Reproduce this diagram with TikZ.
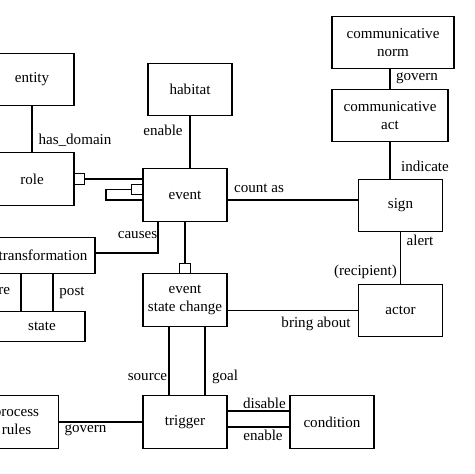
\documentclass[tikz,border=0pt]{standalone}
\usepackage{fontspec}
\setmainfont{Liberation Serif}
\tikzset{
  box/.style={draw, minimum width=63pt, minimum height=39.5pt, inner sep=1pt, align=center},
  sq/.style={draw, minimum size=8pt, inner sep=0pt},
  lbl/.style={inner sep=0pt}
}
\begin{document}
\begin{tikzpicture}[x=0.75pt, y=-0.75pt, line width=0.8pt,
  font=\fontsize{11.3}{14}\selectfont]
					\useasboundingbox (0,0) rectangle (474,474);
					\clip (0,0) rectangle (474,474);

					\node[box] (Ent) at (32,79.5) {entity};
					\node[box] (Role) at (32,179) {role};
					\node[box] (Hab) at (190,89.5) {habitat};
					\node[box] (Ev) at (185,195) {event};
					\node[box, minimum width=91.5pt] (Norm) at (393,42.5) {communicative\\norm};
					\node[box, minimum width=87pt] (Act) at (390,115.5) {communicative\\act};
					\node[box] (Sign) at (400.5,205.5) {sign};
					\node[box] (Actor) at (400.5,310.5) {actor};
					\node[box, minimum width=78pt, minimum height=27.5pt] (Trans) at (43,255.5) {transformation};
					\node[box, minimum width=64.5pt, minimum height=23pt] (State) at (42,326.5) {state};
					\node[box] (Esc) at (185,300) {event\\state change};
					\node[box] (Trig) at (185,422) {trigger};
					\node[box] (Cond) at (332,422) {condition};
					\node[box] (Proc) at (16.5,422) {process\\rules};

					\node[sq] (RSq) at (79.5,179) {};
					\node[sq] (ESq) at (137,189.5) {};
					\node[sq] (CSq) at (185,268.5) {};

					\coordinate (Lp1) at (106,189.5);
					\coordinate (Lp2) at (106,200);
					\coordinate (Cs) at (158,253);
					\coordinate (Ca) at (300,200);
					\coordinate (Pr) at (21,290);
					\coordinate (Po) at (53,290);
					\coordinate (Src) at (169,360);
					\coordinate (Gl) at (205,360);
					\coordinate (Ds) at (260,411);
					\coordinate (En) at (260,427);

					\draw (Ent) -- (Role);
					\draw (RSq.east) -- (RSq.east -| Ev.west);
					\draw (ESq.west) -- (Lp1) -- (Lp2) -- (Lp2 -| Ev.west);
					\draw (Hab) -- (Hab |- Ev.north);
					\draw (Ev.south -| Cs) -- (Cs) -- (Cs -| Trans.east);
					\draw (Ev) -- (CSq);
					\draw (Ev.east |- Ca) -- (Ca -| Sign.west);
					\draw (Act |- Norm.south) -- (Act);
					\draw (Act) -- (Act |- Sign.north);
					\draw (Sign) -- (Actor);
					\draw (Esc.east |- Actor) -- (Actor);
					\draw (Src |- Esc.south) -- (Src |- Trig.north);
					\draw (Gl |- Esc.south) -- (Gl |- Trig.north);
					\draw (Trig.east |- Ds) -- (Ds -| Cond.west);
					\draw (Trig.east |- En) -- (En -| Cond.west);
					\draw (Proc) -- (Trig);
					\draw (Pr |- Trans.south) -- (Pr |- State.north);
					\draw (Po |- Trans.south) -- (Po |- State.north);

					\node[lbl] (lHas) at (75,140) {has\_domain};
					\node[lbl] (lEn1) at (163,130) {enable};
					\node[lbl] (lCau) at (137.5,235) {causes};
					\node[lbl] (lCnt) at (259,188) {count as};
					\node[lbl] (lGv1) at (417,78) {govern};
					\node[lbl] (lInd) at (425,166) {indicate};
					\node[lbl] (lAl) at (420,240) {alert};
					\node[lbl] (lRec) at (365.5,272) {(recipient)};
					\node[lbl] (lBr) at (316,324) {bring about};
					\node[lbl] (lPre) at (0.5,293) {pre};
					\node[lbl] (lPo) at (72,293) {post};
					\node[lbl] (lSrc) at (147.5,377) {source};
					\node[lbl] (lGl) at (225,377) {goal};
					\node[lbl] (lGv2) at (85.5,430) {govern};
					\node[lbl] (lDis) at (264.5,403) {disable};
					\node[lbl] (lEn2) at (263,435) {enable};
				\end{tikzpicture}
\end{document}
